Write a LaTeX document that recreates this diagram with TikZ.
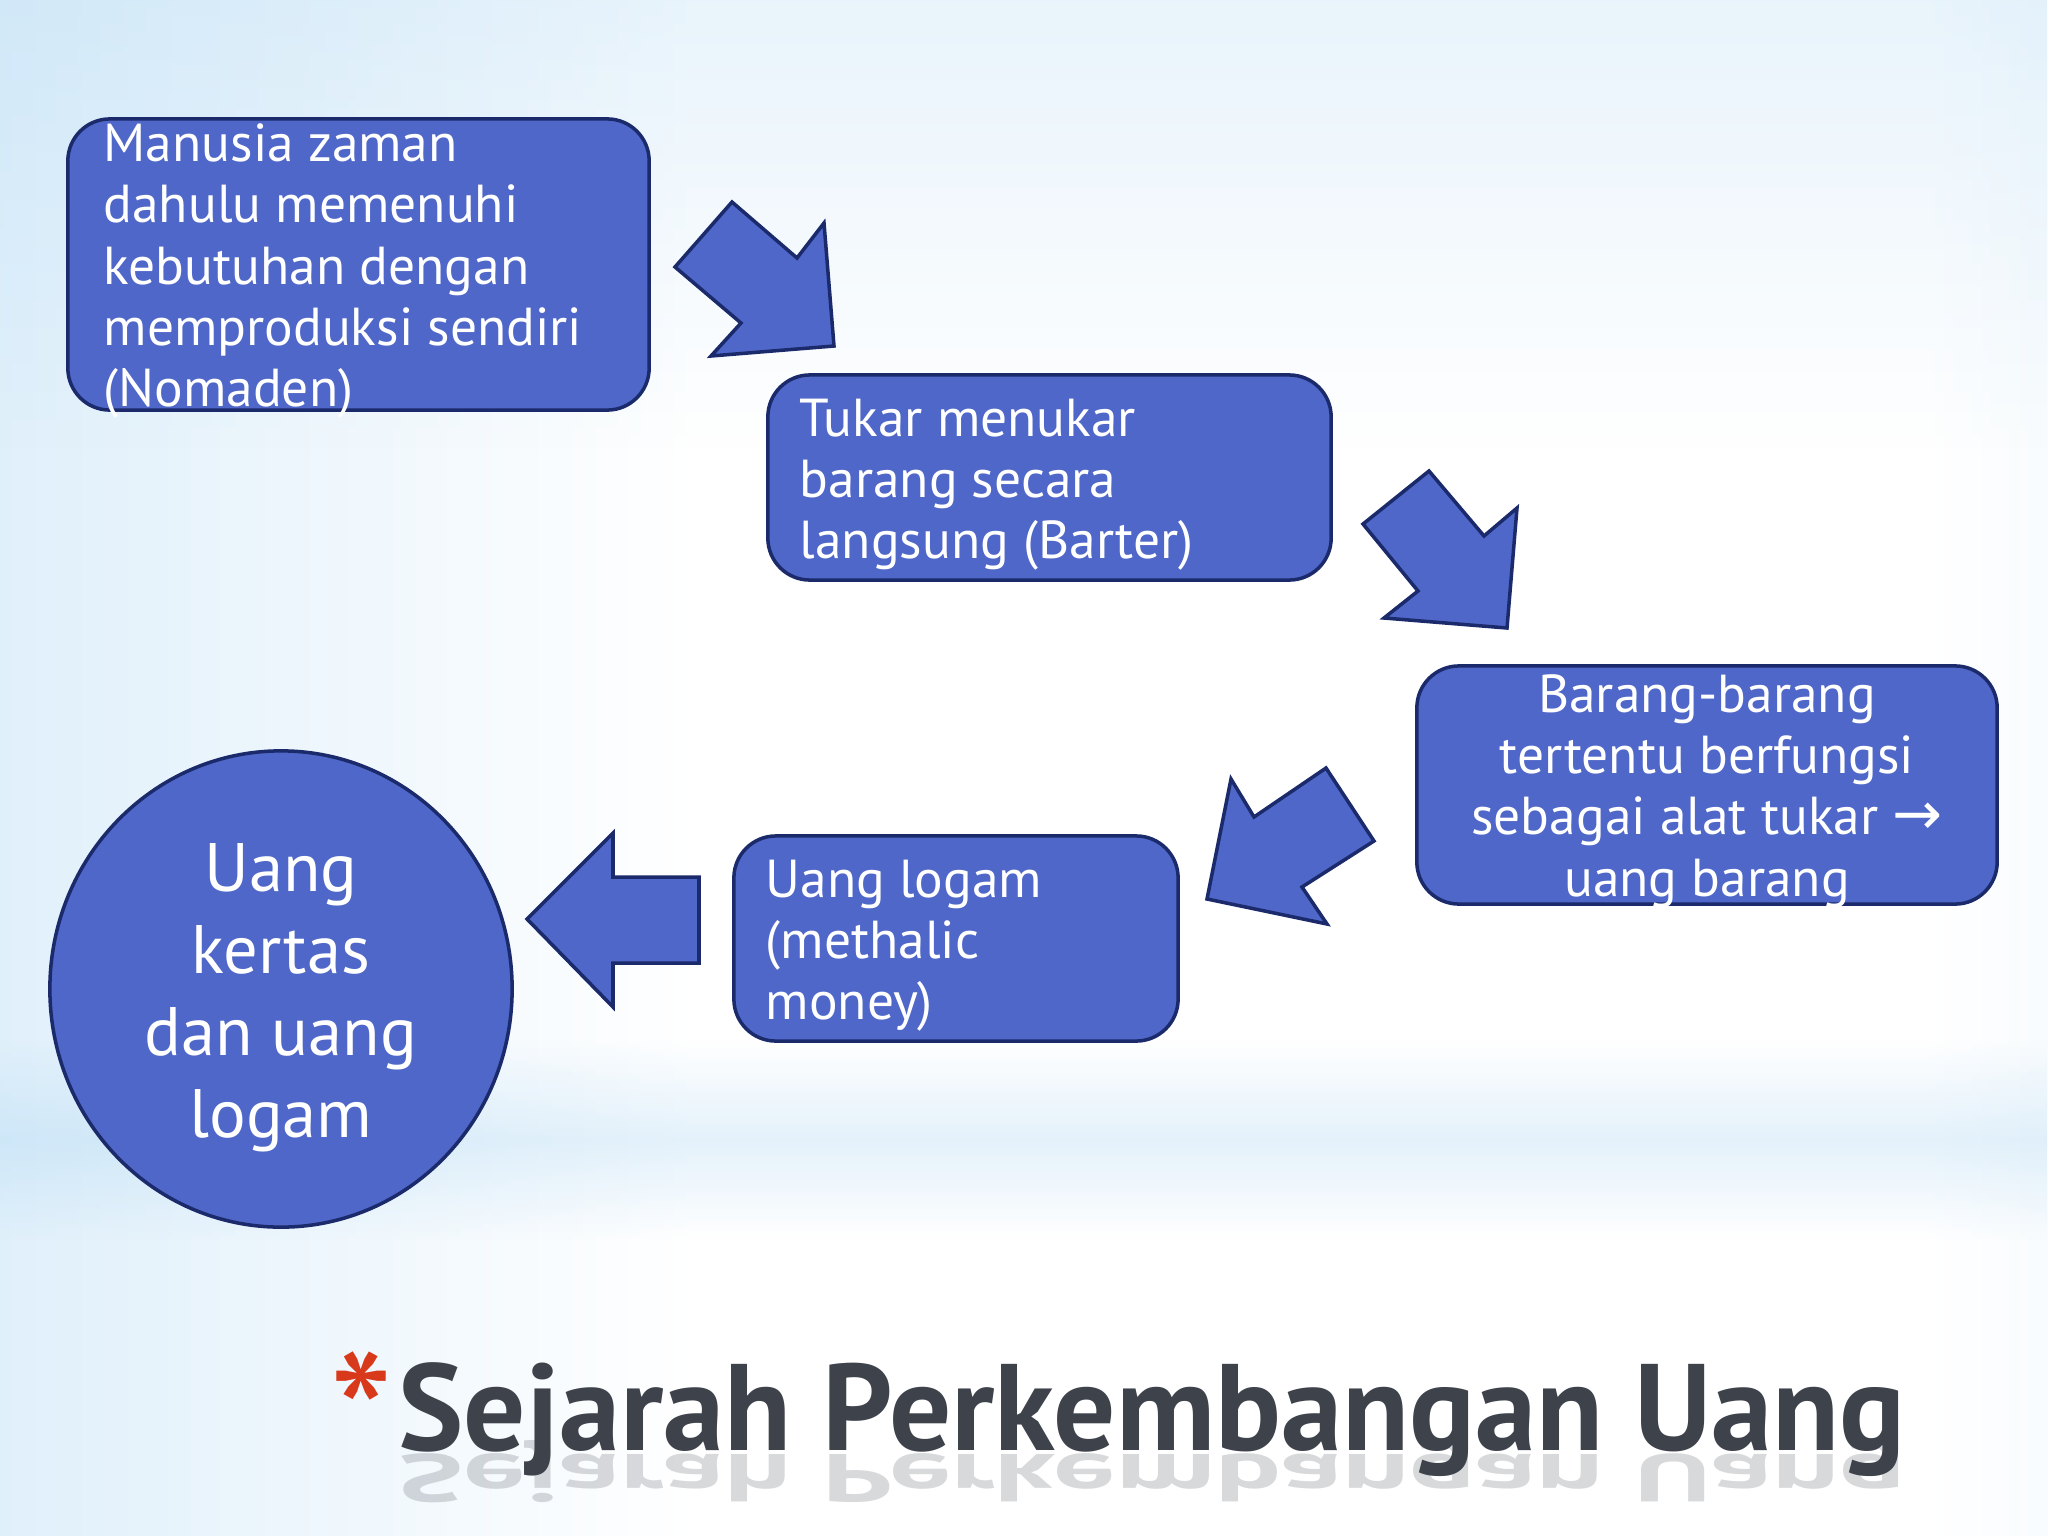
\documentclass[tikz,border=0pt]{standalone}
\usepackage{fontspec}
\setmainfont{PT Sans}
\newfontfamily\arrowfont{DejaVu Sans}
\usetikzlibrary{shapes.geometric,fadings}
\definecolor{boxblue}{HTML}{4F67C8}
\definecolor{boxedge}{HTML}{1B2A6B}
\definecolor{bgblue}{HTML}{A6D3F2}
\definecolor{titlegray}{HTML}{3E424B}
\definecolor{starred}{HTML}{D8391B}
\pgfdeclarehorizontalshading{slidebg}{100bp}{color(0bp)=(bgblue); color(20bp)=(bgblue!45!white); color(42bp)=(white); color(72bp)=(white); color(90bp)=(bgblue!45!white); color(100bp)=(bgblue)}
\tikzset{
  stepbox/.style={draw=boxedge, fill=boxblue, line width=1pt, rounded corners=0.42cm, inner sep=0pt},
  roundbox/.style={draw=boxedge, fill=boxblue, line width=1pt, ellipse, inner sep=0pt},
  blockarrow/.style={draw=boxedge, fill=boxblue, line width=1pt, line join=miter},
  boxtext/.style={text=white, inner sep=0pt, font=\fontsize{15.2}{17.4}\selectfont},
  titletext/.style={text=titlegray, inner sep=0pt, font=\fontsize{35}{42}\selectfont\bfseries},
}

\begin{document}
\begin{tikzpicture}[x=0.01cm, y=-0.01cm]
		%%%%% BACKGROUND %%%%%
		\useasboundingbox (0, 0) rectangle (2048, 1536);
		\shade[shading=slidebg] (0, 0) rectangle (2048, 1536);
		\fill[bgblue, opacity=0.25, path fading=south] (0, 0) rectangle (2048, 450);
		\fill[bgblue, opacity=0.3, path fading=north] (0, 1040) rectangle (2048, 1140);
		\fill[bgblue, opacity=0.3, path fading=south] (0, 1140) rectangle (2048, 1240);
		
		%%%%% BOXES %%%%%
		\node[stepbox, minimum width=5.81cm, minimum height=2.91cm] (nomaden) at (358.5, 264.5) {};
		\node[stepbox, minimum width=5.63cm, minimum height=2.05cm] (barter) at (1049.5, 477.5) {};
		\node[stepbox, minimum width=5.80cm, minimum height=2.38cm] (barang) at (1707, 785) {};
		\node[stepbox, minimum width=4.44cm, minimum height=2.05cm] (logam) at (956, 938.5) {};
		\node[roundbox, minimum width=4.62cm, minimum height=4.76cm] (kertas) at (281, 989) {};
		
		\node[boxtext, anchor=west, align=left] (nomadentext) at (103, 271) {Manusia zaman\\dahulu memenuhi\\kebutuhan dengan\\memproduksi sendiri\\(Nomaden)};
		\node[boxtext, anchor=west, align=left] (bartertext) at (799, 484.5) {Tukar menukar\\barang secara\\langsung (Barter)};
		\node[boxtext, align=center] (barangtext) at (1707, 791) {Barang-barang\\tertentu berfungsi\\sebagai alat tukar {\arrowfont\fontsize{17}{17.4}\selectfont →}\\uang barang};
		\node[boxtext, anchor=west, align=left] (logamtext) at (765, 945.5) {Uang logam\\(methalic\\money)};
		\node[boxtext, align=center, font=\fontsize{19.5}{23.3}\selectfont] (kertastext) at (281, 998) {Uang\\kertas\\dan uang\\logam};
		
		%%%%% ARROWS %%%%%
		\draw[blockarrow] (675, 267) -- (732, 202) -- (797, 258) -- (824, 223) -- (834, 346) -- (711, 356) -- (741, 323) -- cycle;
		\draw[blockarrow] (1363, 524) -- (1429, 471) -- (1484, 536) -- (1517, 508) -- (1507, 628) -- (1384, 618) -- (1418, 591) -- cycle;
		\draw[blockarrow] (1231, 779) -- (1254, 817) -- (1326, 768) -- (1374, 841) -- (1302, 887) -- (1327, 924) -- (1207, 899) -- cycle;
		\draw[blockarrow] (527, 919) -- (613, 833) -- (613, 877) -- (699, 877) -- (699, 963) -- (613, 963) -- (613, 1007) -- cycle;
		
		%%%%% TITLE %%%%%
		\node[titletext, anchor=base west] (judul) at (398, 1450) {Sejarah Perkembangan Uang};
		\node[titletext, anchor=base west, transform shape, yscale=-0.55, opacity=0.2] (bayangan) at (398, 1454) {Sejarah Perkembangan Uang};
		\node[text=starred, inner sep=0pt, font=\fontsize{52}{52}\selectfont] (bintang) at (362, 1417) {*};
	\end{tikzpicture}
\end{document}
